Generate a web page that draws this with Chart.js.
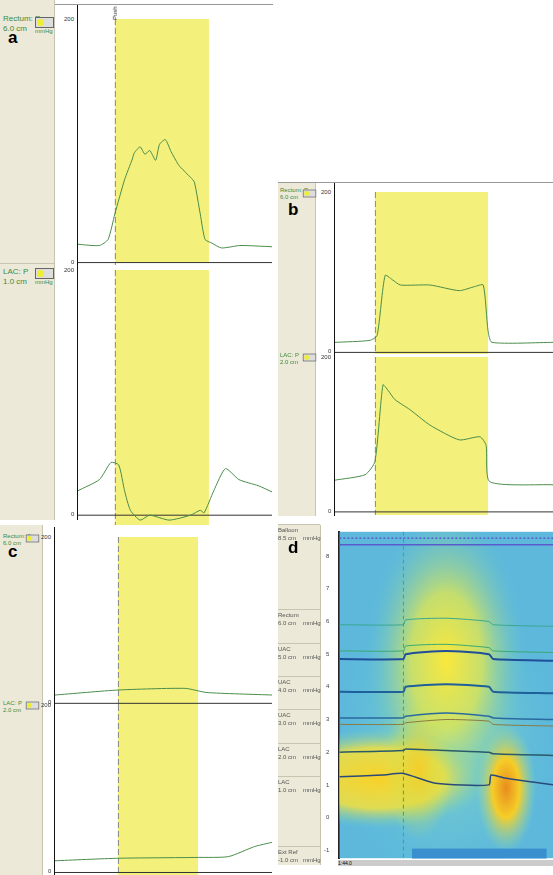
<!DOCTYPE html><html><head><meta charset="utf-8">
<script src="https://cdn.jsdelivr.net/npm/chart.js@4"></script>
<style>
body{margin:0;width:553px;height:875px;background:#fff;position:relative;overflow:hidden;font-family:"Liberation Sans",Arial,sans-serif}
.abs{position:absolute}
.side{position:absolute;background:#ece9d8;border-right:1px solid #c8c4b0}
.lab{position:absolute;font-size:8px;color:#3c8a3c;line-height:10px}
.dl{position:absolute;font-size:6px;color:#555;line-height:8px;width:52px}
.let{position:absolute;font-size:17px;font-weight:bold;color:#000}
.tk{position:absolute;font-size:6px;color:#333}
.ico{position:absolute;width:17px;height:9px;border:1px solid #666;background:#ddd}
.ico:before{content:"";position:absolute;left:1px;top:1px;width:7px;height:7px;background:#ee3;border-radius:4px}
canvas{position:absolute}
</style></head><body>
<script>
// ---- data (time in s, pressure in mmHg) ----
const aRectT=[0,11,15.5,19,24,28,29,32,34.5,37,40,42,45,48,51.5,53,58,60,63,65.5,69,74,83.5,100];
const aRectP=[15,14,19,40,68,85,90,95,89,92,84,97,101,91,81,78,70,66,40,19,16,12,14,13];
const aLacT=[0,11,17,21,24,27,32,37,47,58,63,65,70,76,83,93,100];
const aLacP=[20,29,43,41,20,4,-4,0,-4,0,4,2,20,38,29,24,19];
const bRectT=[0,16,19.3,23,26.6,30,43.6,57,64,68,70.2,72,100];
const bRectP=[12.5,15,21,96,90,84,84,77,82,84,27,12.5,12.5];
const bLacT=[0,13.8,18.3,22,24.3,27.5,34.4,43.6,57,66.5,69.3,71,100];
const bLacP=[41,48,65,164,157,145,132,112,93,97,86,39,35];
const cRectT=[0,29,60,70,100], cRectP=[10,16,18,13,10];
const cLacT=[0,29,66,80,92,100], cLacP=[14,17,18,19,31,36];
const dT=[0,30,31,50,70,72,100];
const dRect=[5.9,5.9,6.05,6.1,6.0,5.9,5.85];
const dUac5a=[5.1,5.1,5.25,5.3,5.2,5.1,5.05];
const dUac5b=[4.85,4.85,5.0,5.1,5.0,4.85,4.8];
const dUac4=[3.85,3.85,4.0,4.08,4.0,3.85,3.8];
const dUac3a=[3.05,3.05,3.1,3.2,3.1,3.05,3.0];
const dUac3b=[2.85,2.85,2.9,3.0,2.95,2.85,2.8];
const dLac2=[2.0,2.05,2.1,2.05,2.0,1.95,1.9];
const dLac1T=[0,20,30,45,70,71,78,100];
const dLac1=[1.25,1.3,1.35,1.05,1.0,1.3,1.2,1.0];
const dTicks=[8,7,6,5,4,3,2,1,0,-1];
const bands={a:[19,67.5],b:[18.3,70.2],c:[29,65.9],d:[30,70]};

const pts=(t,p)=>t.map((x,i)=>({x,y:p[i]}));
function el(tag,cls,css,txt){const e=document.createElement(tag);if(cls)e.className=cls;Object.assign(e.style,css);if(txt!=null)e.innerHTML=txt;document.body.appendChild(e);return e;}
const bandPlug={id:'band',beforeDatasetsDraw(c,a,o){if(!o.r)return;const x=c.scales.x,ca=c.chartArea,g=c.ctx;g.save();g.fillStyle='#f4f07c';const x1=x.getPixelForValue(o.r[0]),x2=x.getPixelForValue(o.r[1]);g.fillRect(x1,ca.top+(o.top||0),x2-x1,ca.bottom-ca.top);g.strokeStyle='#888';g.setLineDash([6,3]);g.beginPath();g.moveTo(x1+0.5,ca.top);g.lineTo(x1+0.5,ca.bottom);g.stroke();g.setLineDash([]);g.strokeStyle='#333';g.beginPath();const y0=c.scales.y.getPixelForValue(0);g.moveTo(ca.left,y0);g.lineTo(ca.right,y0);g.stroke();g.restore();}};
function trace(left,top200,y0,width,min,t,p,band,bandTop){
 const ppu=(y0-top200)/200,h=Math.round((200-min)*ppu);
 const cv=el('canvas',null,{left:left+'px',top:top200+'px',width:width+'px',height:h+'px'});
 cv.width=width;cv.height=h;
 new Chart(cv,{type:'line',data:{datasets:[{data:pts(t,p),borderColor:'#4a8d4a',borderWidth:1,pointRadius:0,tension:0.2}]},
 options:{responsive:false,animation:false,devicePixelRatio:1,layout:{padding:0},plugins:{legend:{display:false},tooltip:{enabled:false},band:{r:band,top:bandTop||0}},
 scales:{x:{type:'linear',min:0,max:100,display:false},y:{min:min,max:200,display:false}}},plugins:[bandPlug]});
 el('div','tk',{left:(left-14)+'px',top:(top200-3)+'px'},'200');
 el('div','tk',{left:(left-7)+'px',top:(y0-4)+'px'},'0');
}
// Panel a
el('div','side',{left:'0',top:'0',width:'54px',height:'520px'});
el('div','abs',{left:'55px',top:'4px',width:'218px',height:'1px',background:'#999'});
el('div','abs',{left:'77px',top:'5px',width:'1px',height:'515px',background:'#111'});
el('div','lab',{left:'3px',top:'14px'},'Rectum: P<br>6.0 cm');el('div','ico',{left:'35px',top:'17px'});
el('div','lab',{left:'35px',top:'26px',fontSize:'6px'},'mmHg');
el('div','lab',{left:'3px',top:'267px'},'LAC: P<br>1.0 cm');el('div','ico',{left:'35px',top:'268px'});
el('div','lab',{left:'35px',top:'277px',fontSize:'6px'},'mmHg');
el('div','let',{left:'8px',top:'28px'},'a');
el('div','abs',{left:'0',top:'263px',width:'54px',height:'1px',background:'#c8c4b0'});
trace(78,19,263,194,-2,aRectT,aRectP,bands.a,-2);
trace(78,270,515,194,-8,aLacT,aLacP,bands.a);
el('div','tk',{left:'108px',top:'10px',transform:'rotate(-90deg)'},'Push');
// Panel b
el('div','abs',{left:'278px',top:'182px',width:'275px',height:'1px',background:'#999'});
el('div','side',{left:'278px',top:'183px',width:'37px',height:'333px'});
el('div','abs',{left:'334px',top:'183px',width:'1px',height:'333px',background:'#111'});
el('div','lab',{left:'280px',top:'187px',fontSize:'6px',lineHeight:'7px'},'Rectum: P<br>6.0 cm');el('div','ico',{left:'300px',top:'188px',transform:'scale(.7)'});
el('div','lab',{left:'280px',top:'352px',fontSize:'6px',lineHeight:'7px'},'LAC: P<br>2.0 cm');el('div','ico',{left:'300px',top:'352px',transform:'scale(.7)'});
el('div','let',{left:'288px',top:'200px'},'b');
trace(335,192,352,218,-2,bRectT,bRectP,bands.b);
trace(335,357,512,218,-4,bLacT,bLacP,bands.b);
// Panel c
el('div','side',{left:'0',top:'525px',width:'42px',height:'350px'});
el('div','abs',{left:'54px',top:'527px',width:'1px',height:'348px',background:'#111'});
el('div','lab',{left:'3px',top:'533px',fontSize:'6px',lineHeight:'7px'},'Rectum: P<br>6.0 cm');el('div','ico',{left:'23px',top:'533px',transform:'scale(.7)'});
el('div','lab',{left:'3px',top:'700px',fontSize:'6px',lineHeight:'7px'},'LAC: P<br>2.0 cm');el('div','ico',{left:'23px',top:'700px',transform:'scale(.7)'});
el('div','let',{left:'8px',top:'542px'},'c');
trace(55,537,703,217,-2,cRectT,cRectP,bands.c);
trace(55,705,872,217,-3,cLacT,cLacP,bands.c);
// Panel d
el('div','side',{left:'278px',top:'525px',width:'42px',height:'340px'});
const dl=[['Balloon<br>8.5 cm',526],['Rectum<br>6.0 cm',611],['UAC<br>5.0 cm',645],['UAC<br>4.0 cm',678],['UAC<br>3.0 cm',711],['LAC<br>2.0 cm',745],['LAC<br>1.0 cm',778],['Ext Ref<br>-1.0 cm',848]];
dl.forEach(([t,y])=>{el('div','dl',{left:'278px',top:y+'px'},t);el('div','dl',{left:'303px',top:(y+8)+'px',width:'20px'},'mmHg');el('div','abs',{left:'278px',top:(y-2)+'px',width:'42px',height:'1px',background:'#c8c4b0'});});
el('div','let',{left:'288px',top:'538px'},'d');
const heat={id:'heat',beforeDatasetsDraw(c){const g=c.ctx,ca=c.chartArea,x=c.scales.x,y=c.scales.y;const X=v=>x.getPixelForValue(v),Y=v=>y.getPixelForValue(v);
 g.save();g.beginPath();g.rect(ca.left,ca.top,ca.width,ca.height);g.clip();g.fillStyle='#5db8dc';g.fillRect(ca.left,ca.top,ca.width,ca.height);
 function blob(cx,cy,rx,ry,stops){g.save();g.translate(X(cx),Y(cy));g.scale(1,ry/rx);const gr=g.createRadialGradient(0,0,0,0,0,rx);stops.forEach(s=>gr.addColorStop(s[0],s[1]));g.fillStyle=gr;g.fillRect(-rx,-rx,2*rx,2*rx);g.restore();}
 blob(50,2.5,110,150,[[0,'rgba(150,220,190,0.9)'],[1,'rgba(100,200,210,0)']]);
 blob(50,4.8,80,150,[[0,'rgba(250,232,60,1)'],[0.45,'rgba(215,228,90,0.85)'],[1,'rgba(100,200,200,0)']]);
 blob(18,1.2,110,50,[[0,'rgba(248,210,40,1)'],[0.6,'rgba(245,225,60,0.85)'],[1,'rgba(120,210,180,0)']]);
 blob(37,1.5,35,70,[[0,'rgba(245,205,40,1)'],[1,'rgba(200,230,90,0)']]);
 blob(78,0.9,30,65,[[0,'rgba(232,140,30,1)'],[0.45,'rgba(245,205,40,1)'],[1,'rgba(150,220,160,0)']]);
 g.fillStyle='#3a8fcf';g.fillRect(X(34),Y(-0.95),X(97)-X(34),Y(-1.3)-Y(-0.95));
 g.strokeStyle='#5a5acc';g.lineWidth=1.5;g.beginPath();g.moveTo(ca.left,Y(8.35));g.lineTo(ca.right,Y(8.35));g.stroke();
 g.setLineDash([2,2]);g.beginPath();g.moveTo(ca.left,Y(8.55));g.lineTo(ca.right,Y(8.55));g.stroke();
 g.setLineDash([4,3]);g.strokeStyle='#3aa0a0';g.lineWidth=1;g.beginPath();g.moveTo(X(30),ca.top);g.lineTo(X(30),ca.bottom);g.stroke();g.restore();}};
const cd=el('canvas',null,{left:'322px',top:'526px',width:'231px',height:'338px'});
cd.width=231;cd.height=338;
const mkD=(t,p,c,w)=>({data:pts(t,p),borderColor:c,borderWidth:w||1,pointRadius:0,tension:0.2});
new Chart(cd,{type:'line',data:{datasets:[mkD(dT,dRect,'#3aa890'),mkD(dT,dUac5a,'#3aa870'),mkD(dT,dUac5b,'#1f4f9a',2),mkD(dT,dUac4,'#1f5f9a',2),mkD(dT,dUac3a,'#2a6aa0',1.5),mkD(dT,dUac3b,'#8a7a40'),mkD(dT,dLac2,'#2a5a6a',1.5),mkD(dLac1T,dLac1,'#2a4a7a',1.5)]},
 options:{responsive:false,animation:false,devicePixelRatio:1,layout:{padding:0},plugins:{legend:{display:false},tooltip:{enabled:false}},
 scales:{x:{type:'linear',min:0,max:100,display:false},y:{min:-1.25,max:8.75,afterBuildTicks:s=>{s.ticks=dTicks.map(v=>({value:v}))},grid:{display:false},border:{color:'#222',width:2},ticks:{font:{size:6},color:'#444',padding:2}}}},plugins:[heat]});
el('div','abs',{left:'338px',top:'860px',width:'215px',height:'6px',background:'#ccc',fontSize:'5px'},'1:44.0');
</script></body></html>
